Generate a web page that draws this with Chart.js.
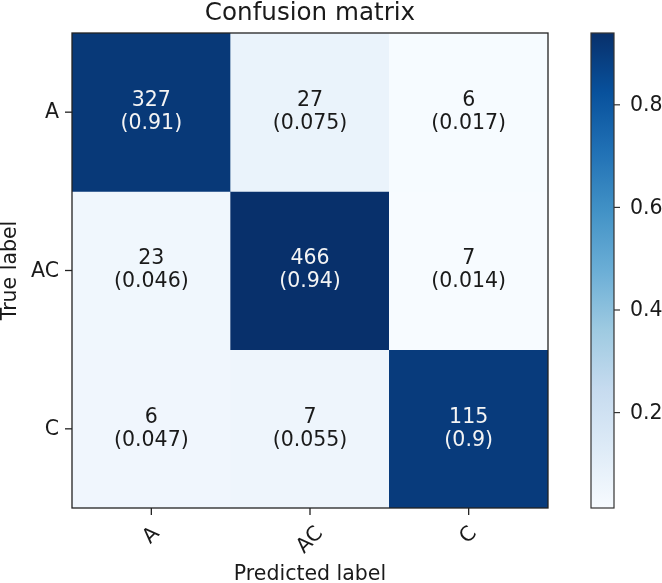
<!DOCTYPE html>
<html>
<head>
<meta charset="utf-8">
<script src="https://cdn.jsdelivr.net/npm/chart.js@4.4.1/dist/chart.umd.min.js"></script>
<style>
html, body { margin:0; padding:0; background:#fff; overflow:hidden; }
canvas { display:block; }
</style>
</head>
<body>
<canvas id="cm" width="662" height="583"></canvas>
<script>
// categories (same for true and predicted)
const classes = ['A', 'AC', 'C'];
// counts per true-label row
const countsA  = [327, 27, 6];
const countsAC = [23, 466, 7];
const countsC  = [6, 7, 115];
// row-normalised values as printed in the cells
const normA  = [0.91, 0.075, 0.017];
const normAC = [0.046, 0.94, 0.014];
const normC  = [0.047, 0.055, 0.9];
// colorbar tick labels
const cbTicks = [0.2, 0.4, 0.6, 0.8];

const counts = [countsA, countsAC, countsC];
const norms = [normA, normAC, normC];
const allVals = norms.flat();
const vmin = Math.min(...allVals), vmax = Math.max(...allVals);
const thresh = vmax / 2;

// matplotlib "Blues"
const blues = [[247,251,255],[222,235,247],[198,219,239],[158,202,225],[107,174,214],[66,146,198],[33,113,181],[8,81,156],[8,48,107]];
function bluesAt(t) {
  t = Math.max(0, Math.min(1, t)) * 8;
  const i = Math.min(7, Math.floor(t)), f = t - i;
  const a = blues[i], b = blues[i + 1];
  return 'rgb(' + a.map((c, k) => Math.round(c + (b[k] - c) * f)).join(',') + ')';
}
const colorFor = v => bluesAt((v - vmin) / (vmax - vmin));

const FONT = '"DejaVu Sans", Verdana, sans-serif';
const INK = '#1a1a1a';

const overlay = {
  id: 'overlay',
  afterDatasetsDraw(chart) {
    const ctx = chart.ctx, a = chart.chartArea;
    const xs = chart.scales.x, ys = chart.scales.y, cb = chart.scales.cb;
    ctx.save();

    // cell texts
    ctx.font = '20.5px ' + FONT;
    ctx.textAlign = 'center';
    ctx.textBaseline = 'middle';
    counts.forEach((row, r) => {
      row.forEach((n, c) => {
        const x = xs.getPixelForValue(c), y = ys.getPixelForValue(r);
        ctx.fillStyle = norms[r][c] > thresh ? '#f4f4f4' : INK;
        ctx.fillText(String(n), x, y - 11.5);
        ctx.fillText('(' + norms[r][c] + ')', x, y + 11.5);
      });
    });

    // frame
    ctx.strokeStyle = '#222';
    ctx.lineWidth = 1.3;
    ctx.strokeRect(a.left, a.top, a.right - a.left, a.bottom - a.top);

    // y ticks + labels
    ctx.fillStyle = INK;
    ctx.textAlign = 'right';
    classes.forEach((lab, i) => {
      const y = ys.getPixelForValue(i);
      ctx.beginPath(); ctx.moveTo(a.left - 7, y); ctx.lineTo(a.left, y); ctx.stroke();
      ctx.fillText(lab, a.left - 13, y + 1);
    });

    // x ticks + rotated labels
    ctx.textAlign = 'center';
    classes.forEach((lab, i) => {
      const x = xs.getPixelForValue(i);
      ctx.beginPath(); ctx.moveTo(x, a.bottom); ctx.lineTo(x, a.bottom + 7); ctx.stroke();
      const w = ctx.measureText(lab).width;
      const cy = a.bottom + 14 + (w + 24) * Math.SQRT1_2 / 2;
      ctx.save();
      ctx.translate(x, cy);
      ctx.rotate(-Math.PI / 4);
      ctx.fillText(lab, 0, 0);
      ctx.restore();
    });

    // axis titles
    ctx.textBaseline = 'alphabetic';
    ctx.fillText('Predicted label', (a.left + a.right) / 2, 580);
    ctx.save();
    ctx.translate(11, (a.top + a.bottom) / 2);
    ctx.rotate(-Math.PI / 2);
    ctx.textBaseline = 'middle';
    ctx.fillText('True label', 0, 0);
    ctx.restore();

    // title
    ctx.font = '24.6px ' + FONT;
    ctx.textBaseline = 'alphabetic';
    ctx.fillText('Confusion matrix', (a.left + a.right) / 2, 20);

    // colorbar
    const cbL = 591, cbR = 614;
    const top = cb.getPixelForValue(vmax), bot = cb.getPixelForValue(vmin);
    const g = ctx.createLinearGradient(0, bot, 0, top);
    blues.forEach((c, i) => g.addColorStop(i / 8, 'rgb(' + c.join(',') + ')'));
    ctx.fillStyle = g;
    ctx.fillRect(cbL, top, cbR - cbL, bot - top);
    ctx.strokeStyle = '#333';
    ctx.lineWidth = 1.2;
    ctx.strokeRect(cbL, top, cbR - cbL, bot - top);
    ctx.font = '20.5px ' + FONT;
    ctx.fillStyle = INK;
    ctx.textAlign = 'left';
    ctx.textBaseline = 'middle';
    cbTicks.forEach(t => {
      const y = cb.getPixelForValue(t);
      ctx.beginPath(); ctx.moveTo(cbR, y); ctx.lineTo(cbR + 6, y); ctx.stroke();
      ctx.fillText(t.toFixed(1), cbR + 16, y + 1);
    });

    ctx.restore();
  }
};

new Chart(document.getElementById('cm'), {
  type: 'bar',
  data: {
    labels: classes,
    datasets: classes.map((name, r) => ({
      label: name,
      data: classes.map(() => [r - 0.5, r + 0.5]),
      backgroundColor: norms[r].map(colorFor),
      borderWidth: 0,
      barPercentage: 1,
      categoryPercentage: 1,
      grouped: false
    }))
  },
  options: {
    responsive: false,
    animation: false,
    devicePixelRatio: 1,
    layout: { padding: { left: 72, top: 33, right: 114, bottom: 75 } },
    plugins: { legend: { display: false }, tooltip: { enabled: false }, title: { display: false } },
    scales: {
      x: { type: 'category', offset: true, display: false },
      y: { type: 'linear', min: -0.5, max: 2.5, reverse: true, display: false },
      cb: { type: 'linear', min: vmin, max: vmax, display: false, position: 'right' }
    }
  },
  plugins: [overlay]
});
</script>
</body>
</html>
